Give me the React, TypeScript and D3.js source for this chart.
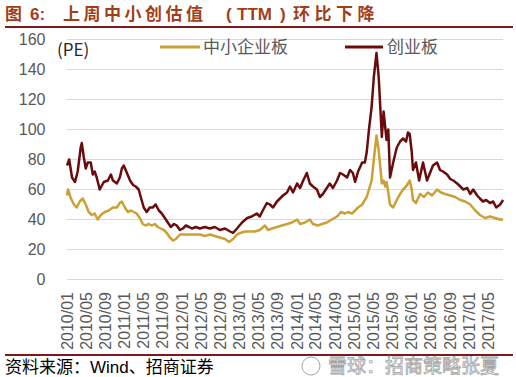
import React from "react";
import * as d3 from "d3";

const chinextDates = ["2010-01-01","2010-01-15","2010-02-02","2010-02-21","2010-03-10","2010-03-29","2010-04-05","2010-04-17","2010-04-30","2010-05-13","2010-06-01","2010-06-14","2010-06-26","2010-07-09","2010-07-28","2010-08-23","2010-09-18","2010-10-07","2010-10-20","2010-11-14","2010-12-03","2010-12-16","2010-12-28","2011-01-17","2011-02-06","2011-02-25","2011-03-14","2011-04-02","2011-04-15","2011-05-04","2011-05-23","2011-06-11","2011-06-30","2011-07-19","2011-08-08","2011-08-27","2011-09-15","2011-10-04","2011-10-23","2011-11-12","2011-11-30","2011-12-20","2012-01-08","2012-01-27","2012-02-16","2012-03-05","2012-03-30","2012-04-25","2012-05-26","2012-06-28","2012-07-29","2012-08-30","2012-10-02","2012-11-03","2012-11-22","2012-12-17","2013-01-18","2013-02-20","2013-03-21","2013-04-22","2013-05-11","2013-05-30","2013-06-25","2013-07-14","2013-08-03","2013-08-28","2013-09-16","2013-10-05","2013-10-31","2013-11-19","2013-12-08","2014-01-03","2014-01-22","2014-02-11","2014-03-06","2014-03-25","2014-04-14","2014-05-09","2014-05-28","2014-06-16","2014-07-11","2014-07-30","2014-08-19","2014-09-14","2014-10-03","2014-10-22","2014-11-17","2014-12-06","2014-12-24","2015-01-07","2015-01-26","2015-02-21","2015-03-10","2015-03-22","2015-04-05","2015-04-22","2015-05-06","2015-05-23","2015-06-06","2015-06-18","2015-06-26","2015-07-07","2015-07-17","2015-07-26","2015-08-06","2015-08-17","2015-09-06","2015-09-29","2015-10-20","2015-11-08","2015-11-27","2015-12-09","2015-12-20","2016-01-02","2016-01-10","2016-01-29","2016-02-18","2016-03-14","2016-04-08","2016-04-27","2016-05-16","2016-06-11","2016-06-30","2016-07-19","2016-08-14","2016-09-03","2016-09-22","2016-10-17","2016-11-06","2016-11-25","2016-12-20","2017-01-08","2017-01-27","2017-02-21","2017-03-11","2017-03-30","2017-04-19","2017-05-14","2017-06-03","2017-06-22","2017-07-17","2017-08-05"];
const chinextValues = [76,80,68,65,72,88,91,82,74,78,78,70,72,68,60,65,66,70,66,64,68,74,76,71,66,63,62,60,55,48,45,48,48,50,46,44,41,38,35,37,36,33,34,36,35,34,35,34,35,34,35,33,34,32,31,34,38,41,42,44,42,46,51,50,48,52,54,56,58,62,58,64,61,66,71,64,62,60,55,57,61,64,61,66,71,70,68,73,71,65,72,78,78,85,100,115,135,151,135,111,95,112,102,93,100,68,78,88,92,94,92,98,97,85,73,78,66,78,66,71,76,78,73,72,70,67,66,64,62,60,61,57,60,56,54,52,53,51,52,48,50,53];

const smeDates = ["2010-01-01","2010-01-07","2010-01-26","2010-02-14","2010-03-04","2010-03-23","2010-04-11","2010-04-30","2010-05-19","2010-06-08","2010-06-26","2010-07-15","2010-08-04","2010-08-29","2010-09-24","2010-10-20","2010-11-14","2010-12-03","2010-12-16","2011-01-04","2011-01-23","2011-02-12","2011-03-01","2011-03-20","2011-04-09","2011-04-28","2011-05-16","2011-06-05","2011-06-24","2011-07-13","2011-08-01","2011-08-20","2011-09-09","2011-09-28","2011-10-17","2011-11-06","2011-11-24","2011-12-20","2012-01-21","2012-02-22","2012-03-24","2012-04-25","2012-05-26","2012-06-28","2012-07-29","2012-08-30","2012-10-02","2012-10-27","2012-11-22","2012-12-17","2013-01-06","2013-02-07","2013-03-09","2013-04-10","2013-05-11","2013-06-13","2013-07-02","2013-07-27","2013-08-28","2013-09-29","2013-10-31","2013-12-02","2014-01-03","2014-01-22","2014-02-23","2014-03-25","2014-04-14","2014-05-15","2014-06-10","2014-07-11","2014-08-12","2014-09-14","2014-10-09","2014-11-04","2014-11-23","2014-12-18","2015-01-07","2015-01-26","2015-02-21","2015-03-10","2015-03-22","2015-04-05","2015-04-22","2015-05-06","2015-05-23","2015-06-06","2015-06-18","2015-06-26","2015-07-07","2015-07-17","2015-07-26","2015-08-06","2015-08-17","2015-09-06","2015-09-29","2015-10-20","2015-11-08","2015-11-27","2015-12-09","2015-12-20","2016-01-02","2016-01-10","2016-01-29","2016-02-24","2016-03-20","2016-04-14","2016-05-10","2016-06-11","2016-07-06","2016-08-01","2016-09-03","2016-10-04","2016-11-06","2016-12-07","2017-01-08","2017-02-09","2017-03-11","2017-04-12","2017-05-14","2017-06-15","2017-07-17","2017-08-05"];
const smeValues = [56,60,54,50,48,52,54,50,45,43,44,40,43,45,46,48,48,51,52,48,45,46,45,44,41,37,36,37,36,37,35,34,33,31,28,26,27,30,30,30,30,30,29,30,29,28,27,25,27,30,31,32,32,32,33,36,33,34,35,36,37,38,40,37,38,40,37,36,37,38,40,42,45,44,45,44,46,48,50,53,55,60,66,80,96,86,73,64,66,62,65,58,50,48,53,57,60,62,64,66,60,53,51,57,55,58,56,60,58,57,56,55,53,52,50,46,43,41,42,41,40,40];

const xTickLabels = ["2010/01","2010/05","2010/09","2011/01","2011/05","2011/09","2012/01","2012/05","2012/09","2013/01","2013/05","2013/09","2014/01","2014/05","2014/09","2015/01","2015/05","2015/09","2016/01","2016/05","2016/09","2017/01","2017/05"];
const yTicks = [0, 20, 40, 60, 80, 100, 120, 140, 160];
const seriesNames = ["中小企业板", "创业板"];

const W = 516;
const H = 377;
const parseD = d3.timeParse("%Y-%m-%d");
const parseM = d3.timeParse("%Y/%m");
const GOLD = "#CBA135";
const DARK = "#6B0C0C";
const NUM_FONT = "'Liberation Sans', Arial, 'Noto Sans CJK SC', sans-serif";
const CJK_FONT = "'Noto Sans CJK SC', 'Liberation Sans', sans-serif";

export default function App() {
  const x = d3.scaleTime().domain([parseD("2010-01-01")!, parseD("2017-05-01")!]).range([67, 488]);
  const y = d3.scaleLinear().domain([0, 160]).range([279.5, 39.5]);
  const line = d3.line<[Date, number]>().x((d) => x(d[0])).y((d) => y(d[1]));
  const chinext: [Date, number][] = chinextDates.map((d, i) => [parseD(d)!, chinextValues[i]]);
  const sme: [Date, number][] = smeDates.map((d, i) => [parseD(d)!, smeValues[i]]);

  return (
    <svg width={W} height={H} style={{ position: "absolute", left: 0, top: 0, background: "#fff" }}>
      <rect x={0} y={0} width={W} height={H} fill="#fff" />
      {/* title */}
      <text y={20} fontFamily={CJK_FONT} fontWeight="bold" fontSize={17} fill="#A23E1A">
        <tspan x={5}>图</tspan>
        <tspan x={30} fontFamily={NUM_FONT}>6:</tspan>
        <tspan x={63} letterSpacing={3.5}>上周中小创估值</tspan>
        <tspan x={226} fontFamily={NUM_FONT}>(</tspan>
        <tspan x={237} fontFamily={NUM_FONT}>TTM</tspan>
        <tspan x={280} fontFamily={NUM_FONT}>)</tspan>
        <tspan x={293} letterSpacing={4.5}>环比下降</tspan>
      </text>
      <line x1={5} x2={513} y1={27} y2={27} stroke="#7A1A1A" strokeWidth={2} />

      {/* grid + y labels */}
      {yTicks.map((t) => (
        <g key={t}>
          <line x1={67} x2={503} y1={y(t)} y2={y(t)} stroke="#D9D9D9" strokeWidth={1} />
          <text x={45.5} y={y(t)} dy="0.36em" textAnchor="end" fontFamily={NUM_FONT} fontSize={16} fill="#595959">
            {t}
          </text>
        </g>
      ))}

      {/* x labels */}
      {xTickLabels.map((l) => {
        const px = x(parseM(l)!);
        return (
          <text
            key={l}
            transform={`translate(${px},292) rotate(-90)`}
            textAnchor="end"
            dy="0.36em"
            fontFamily={NUM_FONT}
            fontSize={16}
            fill="#595959"
          >
            {l}
          </text>
        );
      })}

      {/* series */}
      <path d={line(sme) || ""} fill="none" stroke={GOLD} strokeWidth={2.5} strokeLinejoin="round" />
      <path d={line(chinext) || ""} fill="none" stroke={DARK} strokeWidth={2.5} strokeLinejoin="round" />

      {/* unit */}
      <text x={57} y={56} fontFamily={CJK_FONT} fontSize={17} fill="#262626">(PE)</text>

      {/* legend */}
      <line x1={160} x2={200} y1={47} y2={47} stroke={GOLD} strokeWidth={3} />
      <text x={203} y={53} fontFamily={CJK_FONT} fontSize={17} fill="#595959">{seriesNames[0]}</text>
      <line x1={345} x2={383} y1={47} y2={47} stroke={DARK} strokeWidth={3} />
      <text x={387} y={53} fontFamily={CJK_FONT} fontSize={17} fill="#595959">{seriesNames[1]}</text>

      {/* footer */}
      <line x1={5} x2={513} y1={355} y2={355} stroke="#7A1A1A" strokeWidth={2} />
      <text x={5} y={373} fontFamily={CJK_FONT} fontSize={17} fill="#000">
        资料来源：<tspan fontFamily={NUM_FONT}>Wind</tspan>、招商证券
      </text>

      {/* watermark */}
      <circle cx={311} cy={366} r={9} fill="#fff" stroke="#9a9a9a" strokeWidth={1} opacity={0.9} />
      <text x={328} y={373} fontFamily={CJK_FONT} fontSize={19} fill="#fff" stroke="#9a9a9a" strokeWidth={0.8} opacity={0.9}>
        雪球：招商策略张夏
      </text>
    </svg>
  );
}
